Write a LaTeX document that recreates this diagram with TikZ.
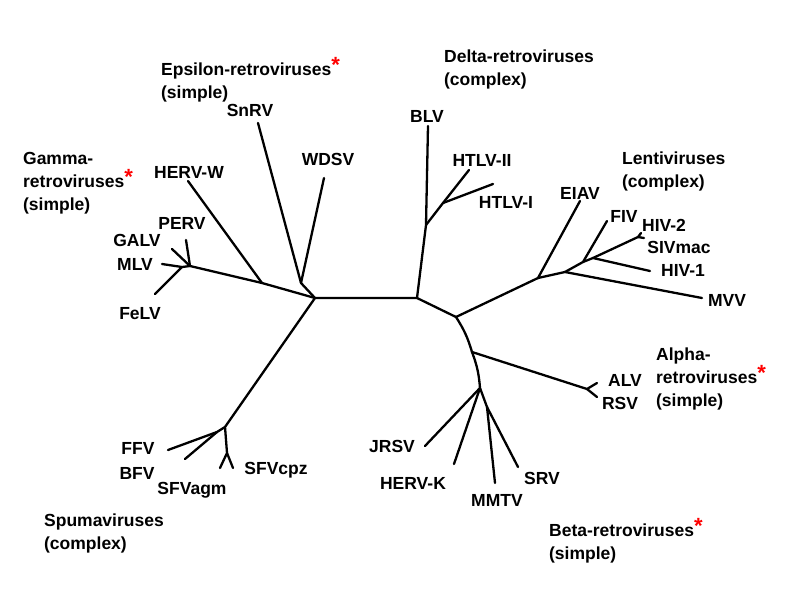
\documentclass[tikz,border=0pt]{standalone}
\usepackage{fontspec}
\setmainfont{Liberation Sans}
\begin{document}
\begin{tikzpicture}[x=1pt,y=-1pt,line width=2.3pt,line cap=round,line join=round,
 lf/.style={font=\bfseries\fontsize{17.5}{20}\selectfont,inner sep=0pt},
 gl/.style={font=\bfseries\fontsize{17.5}{23}\selectfont,inner sep=0pt,align=left,anchor=north west}]
\newcommand{\rstar}{\textcolor{red}{\raisebox{3pt}{\fontsize{22}{22}\selectfont*}}}
\useasboundingbox (0,0) rectangle (785,589);
% internal nodes
\coordinate (C1) at (315,298); \coordinate (C2) at (417,298); \coordinate (C3) at (456,317);
\coordinate (HW) at (262,283); \coordinate (G) at (190,266); \coordinate (G2) at (182,267);
\coordinate (E) at (301,283);
\coordinate (F) at (225,427); \coordinate (F1) at (217,432); \coordinate (F2) at (227,453);
\coordinate (D1) at (426,225); \coordinate (D2) at (443,203);
\coordinate (L1) at (538,278); \coordinate (L2) at (565,272); \coordinate (L3) at (583,262);
\coordinate (L4) at (593,258); \coordinate (L5) at (638,237);
\coordinate (B1) at (472,352); \coordinate (A1) at (587,389); \coordinate (B2) at (480,388);
\coordinate (B3) at (487,407);
% leaf tips
\coordinate (tSnRV) at (258,123); \coordinate (tWDSV) at (324,178); \coordinate (tHERVW) at (188,181);
\coordinate (tPERV) at (186,240); \coordinate (tGALV) at (172,249); \coordinate (tMLV) at (162,264);
\coordinate (tFeLV) at (155,294);
\coordinate (tFFV) at (168,450); \coordinate (tBFV) at (185,459); \coordinate (tSFVagm) at (220,468);
\coordinate (tSFVcpz) at (233,468);
\coordinate (tBLV) at (428,126); \coordinate (tHTLVII) at (469,170); \coordinate (tHTLVI) at (493,184);
\coordinate (tEIAV) at (580,201); \coordinate (tMVV) at (702,298); \coordinate (tFIV) at (607,221);
\coordinate (tHIV1) at (650,271); \coordinate (tHIV2) at (641,233); \coordinate (tSIV) at (644,238);
\coordinate (tALV) at (597,383); \coordinate (tRSV) at (597,397);
\coordinate (tJRSV) at (425,446); \coordinate (tHERVK) at (454,464); \coordinate (tMMTV) at (495,483);
\coordinate (tSRV) at (518,467);
% edges
\draw (C1) -- (C2) -- (C3);
\draw (C1) -- (HW) -- (G) -- (G2) -- (tMLV); \draw (G2) -- (tFeLV);
\draw (G) -- (tPERV); \draw (G) -- (tGALV); \draw (HW) -- (tHERVW);
\draw (C1) -- (E) -- (tSnRV); \draw (E) -- (tWDSV);
\draw (C1) -- (F) -- (F1) -- (tFFV); \draw (F1) -- (tBFV);
\draw (F) -- (F2) -- (tSFVagm); \draw (F2) -- (tSFVcpz);
\draw (C2) -- (D1) -- (tBLV); \draw (D1) -- (D2) -- (tHTLVII); \draw (D2) -- (tHTLVI);
\draw (C3) -- (L1) -- (tEIAV); \draw (L1) -- (L2) -- (tMVV); \draw (L2) -- (L3) -- (tFIV);
\draw (L3) -- (L4) -- (tHIV1); \draw (L4) -- (L5) -- (tHIV2); \draw (L5) -- (tSIV);
\draw (C3) to[bend left=8] (B1); \draw (B1) to[bend left=8] (B2) -- (B3);
\draw (B1) -- (A1) -- (tALV); \draw (A1) -- (tRSV);
\draw (B2) -- (tJRSV); \draw (B2) -- (tHERVK); \draw (B3) -- (tMMTV); \draw (B3) -- (tSRV);
% leaf labels
\node[lf] (nSnRV) at (250,110) {SnRV};
\node[lf] (nWDSV) at (328,159) {WDSV};
\node[lf] (nHERVW) at (189,172) {HERV-W};
\node[lf] (nPERV) at (182,223) {PERV};
\node[lf] (nGALV) at (137,240) {GALV};
\node[lf] (nMLV) at (135,264) {MLV};
\node[lf] (nFeLV) at (140,314) {FeLV};
\node[lf] (nBLV) at (427,116) {BLV};
\node[lf] (nHTLVII) at (482,160) {HTLV-II};
\node[lf] (nHTLVI) at (506,202) {HTLV-I};
\node[lf] (nEIAV) at (580,193) {EIAV};
\node[lf] (nFIV) at (624,216) {FIV};
\node[lf] (nHIV2) at (664,225) {HIV-2};
\node[lf] (nSIV) at (679,247) {SIVmac};
\node[lf] (nHIV1) at (683,270) {HIV-1};
\node[lf] (nMVV) at (727,300) {MVV};
\node[lf] (nALV) at (625,380) {ALV};
\node[lf] (nRSV) at (620,403) {RSV};
\node[lf] (nJRSV) at (392,446) {JRSV};
\node[lf] (nHERVK) at (413,483) {HERV-K};
\node[lf] (nMMTV) at (497,500) {MMTV};
\node[lf] (nSRV) at (542,478) {SRV};
\node[lf] (nFFV) at (138,448) {FFV};
\node[lf] (nBFV) at (137,473) {BFV};
\node[lf] (nSFVagm) at (192,490) {SFVagm};
\node[lf] (nSFVcpz) at (276,470) {SFVcpz};
% group labels
\node[gl] (gEps) at (160,56) {Epsilon-retroviruses\rstar\\(simple)};
\node[gl] (gDel) at (443,49) {Delta-retroviruses\\(complex)};
\node[gl] (gGam) at (22,151) {Gamma-\\retroviruses\rstar\\(simple)};
\node[gl] (gLen) at (621,151) {Lentiviruses\\(complex)};
\node[gl] (gAlp) at (655,347) {Alpha-\\retroviruses\rstar\\(simple)};
\node[gl] (gSpu) at (43,513) {Spumaviruses\\(complex)};
\node[gl] (gBet) at (548,517) {Beta-retroviruses\rstar\\(simple)};
\end{tikzpicture}
\end{document}
